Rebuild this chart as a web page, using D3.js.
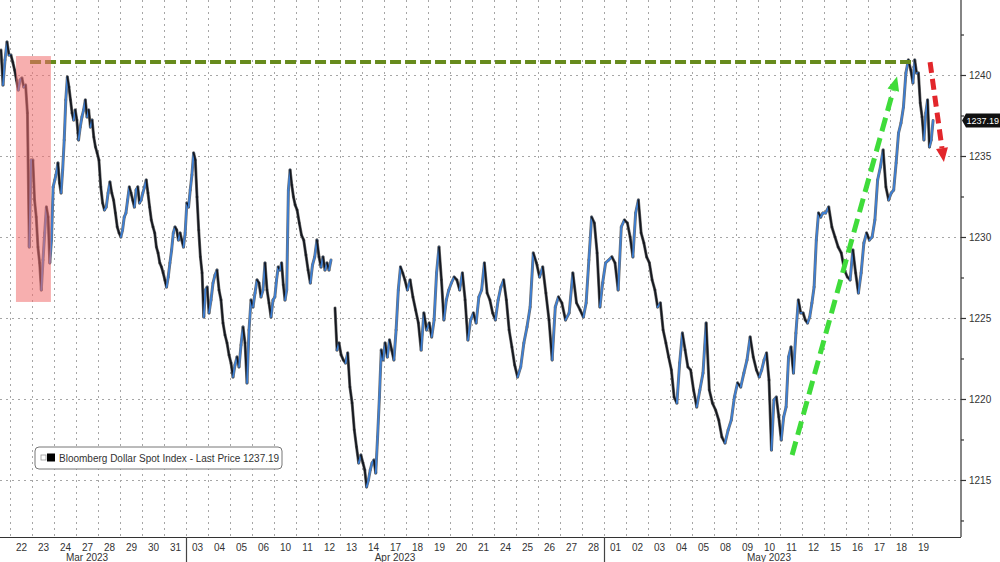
<!DOCTYPE html>
<html><head><meta charset="utf-8">
<script src="https://cdn.jsdelivr.net/npm/d3@7"></script>
<style>html,body{margin:0;padding:0;background:#fff;overflow:hidden;} svg{display:block;font-family:"Liberation Sans",Arial,sans-serif;}</style>
</head><body><svg id="chart" width="1000" height="562"></svg>
<script>
// ---------------- DATA ----------------
const dayLabels = ["22","23","24","27","28","29","30","31",
  "03","04","05","06","10","11","12","13","14","17","18","19","20","21","24","25","26","27","28",
  "01","02","03","04","05","08","09","10","11","12","15","16","17","18","19"];
const monthLabels = ["Mar 2023","Apr 2023","May 2023"];
const monthSpans = [[-1, 8], [8, 27], [27, 42]]; // trading-day index ranges (Mar 21 = -1)
const yTicks = [1215, 1220, 1225, 1230, 1235, 1240];
const yMinorTicks = [1212.5, 1217.5, 1222.5, 1227.5, 1232.5, 1237.5, 1242.5];
const seriesName = "Bloomberg Dollar Spot Index - Last Price";
const lastPrice = 1237.19;

// tail of the Mar 21 session (only the end is in view)
const priorSessionPrices = [1241.54, 1239.38, 1240.93, 1242.04, 1241.23];
// intraday prices, one list per trading day (null = gap in the feed)
const dailyPrices = [
  [1241.23,1240.80,1240.31,1239.69,1239.07,1239.69,1239.81,1239.26,1239.38,1237.65,1229.38,1234.75],
  [1234.75,1232.28,1231.23,1229.38,1228.40,1226.73,1228.58,1230.25,1231.85,1231.23,1228.40,1229.81,1233.09],
  [1233.52,1233.95,1234.57,1233.33,1232.72,1234.14,1235.99,1238.46,1239.88,1239.26,1238.46,1237.65,1237.22,1237.84],
  [1237.22,1235.99,1236.79,1237.41,1237.84,1238.46,1237.41,1237.84,1236.79,1237.22,1236.17,1235.56,1235.19],
  [1234.75,1233.09,1232.10,1231.67,1231.85,1232.72,1233.40,1232.72,1232.28,1231.48,1230.62,1230.25],
  [1230.00,1230.43,1231.23,1231.48,1232.28,1233.09,1232.72,1232.28,1231.85,1232.90,1233.09,1232.10,1232.28],
  [1232.72,1233.09,1233.52,1232.72,1231.85,1231.05,1230.62,1230.25,1229.38,1229.01,1228.40,1228.15,1227.78],
  [1227.35,1226.91,1227.53,1228.40,1229.20,1230.25,1230.62,1230.43,1229.81,1230.25,1229.81,1229.38,1230.25],
  [1232.10,1231.85,1232.90,1233.83,1235.19,1234.75,1232.47,1230.43,1228.77,1227.78,1225.06,1226.73,1226.91],
  [1225.31,1226.11,1227.16,1227.65,1227.96,1226.73,1226.11,1224.69,1223.95,1223.46,1222.72],
  [1222.22,1221.36,1222.10,1222.59,1221.98,1223.33,1224.44,1223.46,1220.99,1224.26,1226.11],
  [1225.68,1226.54,1227.35,1227.16,1226.30,1226.73,1228.40,1226.73,1225.93,1225.06,1226.11],
  [1226.30,1227.35,1228.15,1227.96,1228.40,1227.04,1226.11,1226.73,1232.90,1234.14,1233.21,1232.47,1231.98],
  [1231.67,1230.86,1230.12,1229.81,1228.89,1227.96,1227.16,1228.27,1228.77,1229.81],
  [1228.77,1228.15,1228.77,1227.96,1228.40,1227.96,1228.58,null,1225.62,1223.02,1223.46],
  [1222.72,1222.41,1222.22,1222.84,1220.74,1219.75,1218.09,1217.04,1216.05,1216.54],
  [1216.05,1215.62,1214.57,1215.00,1215.62,1216.05,1216.23,1215.43,1217.65,1220.12,1223.02,1222.41],
  [1223.46,1222.59,1223.64,1223.02,1222.41,1224.26,1226.73,1228.15,1227.78,1227.35],
  [1226.73,1227.35,1226.30,1225.49,1224.69,1223.02,1225.31,1224.26],
  [1224.69,1223.83,1224.88,1227.78,1229.38,1227.35,1224.88,1226.11,1226.73],
  [1227.16,1227.53,1227.35,1226.73,1227.78,1226.11,1223.64,1224.88],
  [1225.31,1224.69,1226.30,1226.73,1228.40,1226.54,1226.11,1225.31],
  [1224.88,1226.11,1226.91,1227.35,1226.11,1224.26,1223.21,1222.10],
  [1221.36,1221.98,1223.46,1224.44,1225.68,1229.01,1228.40],
  [1227.53,1228.15,1226.54,1224.88,1222.41,1225.68,1226.30],
  [1225.93,1224.88,1225.31,1227.78,1225.93,1225.49],
  [1225.06,1225.93,1228.58,1231.23,1230.86,1229.01,1225.68,1227.16],
  [1228.40,1228.58,1228.77,1228.40,1226.73,1230.62,1231.05],
  [1230.86,1230.00,1228.77,1231.48,1232.28,1230.25,1229.63,1228.77],
  [1228.40,1227.35,1226.73,1225.68,1225.93,1224.26,1223.46,1222.59],
  [1221.79,1220.12,1219.75,1222.22,1224.07,1223.02,1221.98,1221.79],
  [1220.56,1219.51,1220.56,1221.60,1224.69,1220.56,1219.75],
  [1219.32,1218.70,1217.65,1217.28,1218.09,1218.70,1220.12],
  [1220.99,1220.74,1221.60,1222.41,1223.83,1222.59,1221.79],
  [1221.36,1221.79,1222.41,1222.84,1221.17,1216.85,1219.94,1220.12,1218.89],
  [1217.47,1218.89,1219.51,1222.59,1223.21,1221.60,1224.07,1226.11,1225.31],
  [1225.31,1224.88,1224.69,1225.06,1225.93,1226.91,1229.81,1231.48,1231.23,1231.48],
  [1231.48,1231.85,1230.62,1230.00,1229.38,1229.01,1227.96],
  [1227.53,1227.35,1229.20,1227.78,1226.54,1227.78,1229.63,1230.25],
  [1229.81,1230.00,1231.05,1233.52,1234.32,1235.37,1233.09,1232.28],
  [1232.72,1232.90,1234.57,1236.42,1237.04,1238.02,1240.12,1240.93,1240.31],
  [1239.51,1240.93,1240.12,1240.12,1238.27,1237.41,1235.99,1237.65,1238.46,1235.56,1235.99,1237.19]
];

// annotations (in trading-day index / price units)
const resistance = {from: 0.91, to: 41.14, level: 1240.8};
const highlightBox = {from: 0.27, to: 1.86, top: 1241.17, bottom: 1225.99};
const upArrow = {t0: 35.55, v0: 1216.54, t1: 40.32, v1: 1239.9};
const downArrow = {t0: 41.82, v0: 1240.8, t1: 42.45, v1: 1234.63};

// ---------------- LAYOUT ----------------
const W = 1000, H = 562;
const plot = {left: 0, right: 961, top: 0, bottom: 537};
const svg = d3.select("#chart");

const x = d3.scaleLinear().domain([-0.455, 43.227]).range([plot.left, plot.right]);
const y = d3.scaleLinear().domain([1211.48, 1244.63]).range([plot.bottom, plot.top]);

// flatten series
const pts = [];
const t0 = x.domain()[0];
priorSessionPrices.forEach((v, j, a) => pts.push({t: t0 + (j + 0.5) / a.length * (0 - t0), v}));
dailyPrices.forEach((day, i) => day.forEach((v, j) => pts.push({t: i + (j + 0.5) / day.length, v})));

svg.append("defs").append("clipPath").attr("id", "clip").append("rect")
  .attr("x", plot.left).attr("y", plot.top).attr("width", plot.right - plot.left).attr("height", plot.bottom - plot.top);

// gridlines
const gridStyle = s => s.attr("stroke", "#a6a6a6").attr("stroke-width", 1)
  .attr("stroke-dasharray", "2,4").attr("shape-rendering", "crispEdges");
svg.append("g").selectAll("line").data(yTicks).join("line")
  .attr("x1", plot.left).attr("x2", plot.right)
  .attr("y1", d => Math.round(y(d)) + 0.5).attr("y2", d => Math.round(y(d)) + 0.5)
  .call(gridStyle);
svg.append("g").selectAll("line").data(d3.range(0, dayLabels.length)).join("line")
  .attr("x1", d => Math.round(x(d)) + 0.5).attr("x2", d => Math.round(x(d)) + 0.5)
  .attr("y1", plot.top).attr("y2", plot.bottom)
  .call(gridStyle);

// price series: segments coloured by direction
const g = svg.append("g").attr("clip-path", "url(#clip)");
const segs = [];
for (let k = 1; k < pts.length; k++) {
  if (pts[k].v == null || pts[k - 1].v == null) continue;
  segs.push({a: pts[k - 1], b: pts[k], up: pts[k].v >= pts[k - 1].v});
}
g.append("g").selectAll("line").data(segs).join("line")
  .attr("x1", d => x(d.a.t)).attr("y1", d => y(d.a.v))
  .attr("x2", d => x(d.b.t)).attr("y2", d => y(d.b.v))
  .attr("stroke", "#707070").attr("stroke-width", 3).attr("stroke-linecap", "round");
g.append("g").selectAll("line").data(segs).join("line")
  .attr("x1", d => x(d.a.t)).attr("y1", d => y(d.a.v))
  .attr("x2", d => x(d.b.t)).attr("y2", d => y(d.b.v))
  .attr("stroke", d => d.up ? "#3d7fd4" : "#15181f").attr("stroke-width", 1.8).attr("stroke-linecap", "round");

// resistance dashed line
svg.append("line")
  .attr("x1", x(resistance.from)).attr("x2", x(resistance.to))
  .attr("y1", y(resistance.level)).attr("y2", y(resistance.level))
  .attr("stroke", "#678b1d").attr("stroke-width", 4).attr("stroke-dasharray", "11,4");

// highlight box
svg.append("rect")
  .attr("x", x(highlightBox.from)).attr("y", y(highlightBox.top))
  .attr("width", x(highlightBox.to) - x(highlightBox.from))
  .attr("height", y(highlightBox.bottom) - y(highlightBox.top))
  .attr("fill", "rgb(240,110,110)").attr("fill-opacity", 0.55);

// arrows
function arrow(a, color, dash) {
  const X0 = x(a.t0), Y0 = y(a.v0), X1 = x(a.t1), Y1 = y(a.v1);
  const ang = Math.atan2(Y1 - Y0, X1 - X0);
  const headL = 14, headW = 6;
  const bx = X1 - headL * Math.cos(ang), by = Y1 - headL * Math.sin(ang);
  svg.append("line").attr("x1", X0).attr("y1", Y0).attr("x2", bx).attr("y2", by)
    .attr("stroke", color).attr("stroke-width", 5).attr("stroke-dasharray", dash);
  const px = -Math.sin(ang), py = Math.cos(ang);
  svg.append("path")
    .attr("d", `M${X1},${Y1}L${bx + px * headW},${by + py * headW}L${bx - px * headW},${by - py * headW}Z`)
    .attr("fill", color);
}
arrow(upArrow, "#3fdc3a", "14,7");
arrow(downArrow, "#e2262b", "11,6");

// right axis
const yAxis = svg.append("g").attr("transform", `translate(${plot.right},0)`)
  .call(d3.axisRight(y).tickValues(yTicks).tickSize(5).tickPadding(3).tickFormat(d3.format("d")));
svg.append("g").attr("transform", `translate(${plot.right},0)`)
  .call(d3.axisRight(y).tickValues(yMinorTicks).tickSize(3).tickFormat(""))
  .call(s => s.select(".domain").remove());
yAxis.select(".domain").attr("d", `M0,${plot.top}V${plot.bottom}`);
svg.selectAll(".tick line, .domain").attr("stroke", "#333").attr("stroke-width", 1.2);
yAxis.selectAll("text").attr("font-size", 10).attr("fill", "#333").attr("font-family", "Liberation Sans, Arial, sans-serif");

// bottom axis line
svg.append("line").attr("x1", plot.left).attr("x2", plot.right)
  .attr("y1", plot.bottom + 0.5).attr("y2", plot.bottom + 0.5).attr("stroke", "#333").attr("stroke-width", 1.2);
const xAxis = svg.append("g").attr("transform", `translate(0,${plot.bottom})`)
  .call(d3.axisBottom(x).tickValues(d3.range(0, dayLabels.length).map(i => i + 0.5))
    .tickSize(0).tickPadding(7).tickFormat((d, i) => dayLabels[i]));
xAxis.select(".domain").remove();
xAxis.selectAll("text").attr("font-size", 10).attr("fill", "#333").attr("font-family", "Liberation Sans, Arial, sans-serif");

// month separators & labels
svg.append("g").selectAll("line").data(monthSpans.slice(1)).join("line")
  .attr("x1", d => Math.round(x(d[0])) + 0.5).attr("x2", d => Math.round(x(d[0])) + 0.5)
  .attr("y1", plot.bottom).attr("y2", H).attr("stroke", "#444").attr("stroke-width", 1.2);
svg.append("g").selectAll("text").data(monthSpans).join("text")
  .attr("x", d => x((d[0] + d[1]) / 2)).attr("y", 561)
  .attr("text-anchor", "middle").attr("font-size", 10).attr("fill", "#333")
  .text((d, i) => monthLabels[i]);

// last price tag
const ly = y(lastPrice);
svg.append("path")
  .attr("d", `M${plot.right + 1},${ly}L${plot.right + 5},${ly - 7}H${W}V${ly + 7}H${plot.right + 5}Z`)
  .attr("fill", "#111");
svg.append("text").attr("x", plot.right + 5.5).attr("y", ly + 3.2)
  .attr("font-size", 9).attr("fill", "#fff").text(lastPrice.toFixed(2));

// legend
const lg = svg.append("g").attr("transform", "translate(35,447)");
lg.append("rect").attr("width", 247).attr("height", 22).attr("rx", 4)
  .attr("fill", "#fff").attr("stroke", "#777").attr("stroke-width", 1);
lg.append("rect").attr("x", 6).attr("y", 8).attr("width", 5).attr("height", 5)
  .attr("fill", "none").attr("stroke", "#999").attr("stroke-width", 0.8);
lg.append("rect").attr("x", 12).attr("y", 6.5).attr("width", 8).attr("height", 8).attr("fill", "#000");
lg.append("text").attr("x", 24).attr("y", 14.5).attr("font-size", 10).attr("fill", "#333")
  .text(`${seriesName} ${lastPrice.toFixed(2)}`);
</script></body></html>
